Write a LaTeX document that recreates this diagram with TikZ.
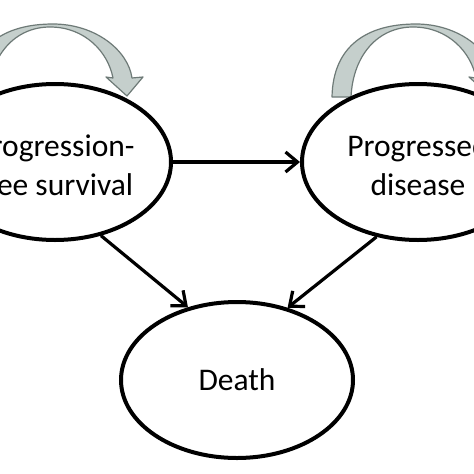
\documentclass[tikz,border=0pt]{standalone}
\usepackage{fontspec}
\setmainfont{Carlito}
\usetikzlibrary{shapes.geometric,arrows.meta}
\pgfdeclarelayer{bg}
\pgfsetlayers{bg,main}
\definecolor{loopfill}{RGB}{197,207,204}
\definecolor{loopdraw}{RGB}{110,122,119}
\tikzset{
  state/.style={ellipse, draw=black, line width=4pt, minimum width=232pt, minimum height=156pt,
    inner sep=0pt, align=center, font=\fontsize{31.5}{38.5}\selectfont},
  trans/.style={line width=3.2pt, -{Straight Barb[length=12pt,width=20pt,line width=3.2pt]}},
  loopshape/.style={fill=loopfill, draw=loopdraw, line width=1.2pt, line join=round}
}
\newcommand{\selfloop}{%
  (-86,-65) .. controls (-85,-117) and (-50,-138) .. (-2,-138)
  .. controls (40,-138) and (73,-112) .. (77,-84)
  -- (88,-85) -- (72,-66) -- (51,-85) -- (58,-84)
  .. controls (53,-110) and (30,-135) .. (-5,-135)
  .. controls (-40,-135) and (-65,-107) .. (-67,-65) -- cycle}
\newcommand{\toppad}{\rule{0pt}{28pt}}
\begin{document}
\begin{tikzpicture}[x=1pt,y=-1pt]
\useasboundingbox (0,0) rectangle (474,474);
\clip (0,0) rectangle (474,474);
\node[state] (PFS) at (55,162) {\toppad Progression-\\free survival};
\node[state] (PD) at (418,162) {\toppad Progressed\\disease};
\node[state] (D) at (237,380) {Death};
\begin{pgfonlayer}{bg}
\fill[white] (0,0) rectangle (474,474);
\begin{scope}[shift={(PFS.center)}]
\path[loopshape] \selfloop;
\end{scope}
\begin{scope}[shift={(PD.center)}]
\path[loopshape] \selfloop;
\end{scope}
\end{pgfonlayer}
\draw[trans] (PFS.east) -- (PD.west);
\draw[trans] (PFS.-58.7) -- (D.124.4);
\draw[trans] (PD.-119) -- (D.55.6);
\end{tikzpicture}
\end{document}
